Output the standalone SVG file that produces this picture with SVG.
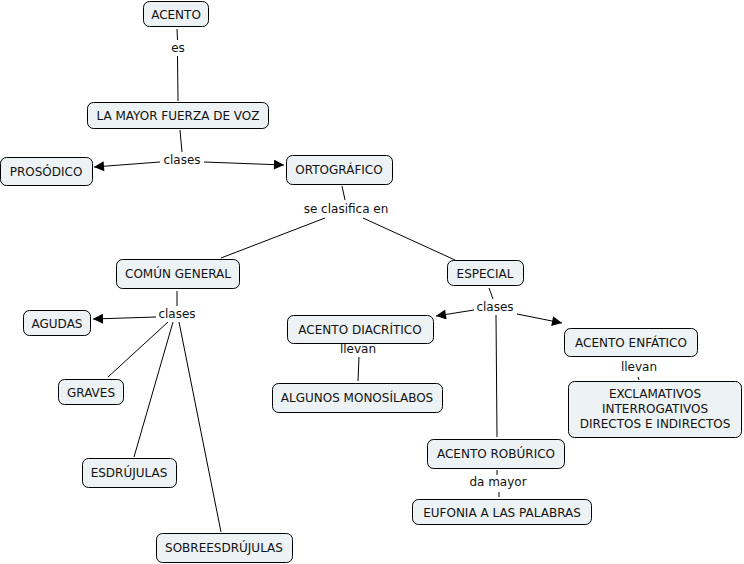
<svg xmlns="http://www.w3.org/2000/svg" width="744" height="564" viewBox="0 0 744 564">
<style>
.n rect{fill:#edf2f4;stroke:#000;stroke-width:1}
text{font-family:"DejaVu Sans",Verdana,sans-serif;font-size:12px;fill:#111;text-anchor:middle}
.c line{stroke:#000;stroke-width:1}
.a{marker-end:url(#ah)}
</style>
<defs>
<marker id="ah" viewBox="0 0 10 10" refX="10" refY="5" markerWidth="12" markerHeight="10" markerUnits="userSpaceOnUse" orient="auto">
<path d="M0,0 L10,5 L0,10 Z" fill="#000"/>
</marker>
</defs>
<rect width="744" height="564" fill="#fff"/>
<g class="c">
<line x1="177" y1="29" x2="177.5" y2="40"/>
<line x1="177.5" y1="56" x2="178" y2="101"/>
<line x1="180" y1="130" x2="182" y2="152"/>
<line x1="160" y1="162" x2="94" y2="167" class="a"/>
<line x1="204" y1="162" x2="284" y2="165" class="a"/>
<line x1="342" y1="186" x2="345" y2="200"/>
<line x1="325" y1="218" x2="221" y2="258"/>
<line x1="363" y1="218" x2="455" y2="260"/>
<line x1="177" y1="291" x2="177" y2="306"/>
<line x1="156" y1="317" x2="93" y2="319" class="a"/>
<line x1="168" y1="322" x2="108" y2="377"/>
<line x1="173" y1="322" x2="134" y2="457"/>
<line x1="179" y1="322" x2="221" y2="532"/>
<line x1="489" y1="288" x2="493" y2="299"/>
<line x1="474" y1="310" x2="436" y2="316" class="a"/>
<line x1="517" y1="314" x2="562" y2="323" class="a"/>
<line x1="496" y1="315" x2="497" y2="437"/>
<line x1="359" y1="357" x2="358" y2="381"/>
<line x1="638" y1="377" x2="639" y2="380"/>
<line x1="497" y1="470" x2="497" y2="475"/>
<line x1="499" y1="492" x2="499" y2="497"/>
</g>
<g id="lbl-es"><text x="178" y="52">es</text></g>
<g id="lbl-clases1"><text x="182" y="164">clases</text></g>
<g id="lbl-seclasifica"><text x="346" y="213">se clasifica en</text></g>
<g id="lbl-clases2"><text x="177" y="318">clases</text></g>
<g id="lbl-clases3"><text x="495" y="311">clases</text></g>
<g id="lbl-llevan1"><text x="358" y="353">llevan</text></g>
<g id="lbl-llevan2"><text x="639" y="371">llevan</text></g>
<g id="lbl-damayor"><text x="498" y="486">da mayor</text></g>
<g id="n-acento" class="n"><rect x="143.5" y="1.5" width="65" height="25" rx="6"/><text x="176" y="18.5">ACENTO</text></g>
<g id="n-lamayor" class="n"><rect x="87.5" y="102.5" width="181" height="26" rx="6"/><text x="178" y="120">LA MAYOR FUERZA DE VOZ</text></g>
<g id="n-prosodico" class="n"><rect x="0.5" y="157.5" width="92" height="28" rx="6"/><text x="46" y="176">PROSÓDICO</text></g>
<g id="n-ortografico" class="n"><rect x="286.5" y="155.5" width="106" height="29" rx="6"/><text x="339" y="174">ORTOGRÁFICO</text></g>
<g id="n-comun" class="n"><rect x="116.5" y="259.5" width="123" height="29" rx="6"/><text x="178" y="278">COMÚN GENERAL</text></g>
<g id="n-especial" class="n"><rect x="447.5" y="260.5" width="76" height="25" rx="6"/><text x="485" y="277.5">ESPECIAL</text></g>
<g id="n-agudas" class="n"><rect x="23.5" y="310.5" width="67" height="25" rx="6"/><text x="57" y="327.5">AGUDAS</text></g>
<g id="n-graves" class="n"><rect x="58.5" y="379.5" width="65" height="25" rx="6"/><text x="91" y="396.5">GRAVES</text></g>
<g id="n-esdrujulas" class="n"><rect x="82.5" y="458.5" width="94" height="29" rx="6"/><text x="129" y="477">ESDRÚJULAS</text></g>
<g id="n-sobre" class="n"><rect x="156.5" y="533.5" width="136" height="29" rx="6"/><text x="224" y="552">SOBREESDRÚJULAS</text></g>
<g id="n-diacritico" class="n"><rect x="287.5" y="315.5" width="146" height="28" rx="6"/><text x="360" y="334">ACENTO DIACRÍTICO</text></g>
<g id="n-monosilabos" class="n"><rect x="272.5" y="383.5" width="170" height="29" rx="6"/><text x="357" y="402">ALGUNOS MONOSÍLABOS</text></g>
<g id="n-enfatico" class="n"><rect x="564.5" y="328.5" width="133" height="28" rx="6"/><text x="631" y="347">ACENTO ENFÁTICO</text></g>
<g id="n-exclamativos" class="n"><rect x="568.5" y="381.5" width="173" height="56" rx="6"/><text x="655" y="398">EXCLAMATIVOS</text><text x="655" y="413">INTERROGATIVOS</text><text x="655" y="428">DIRECTOS E INDIRECTOS</text></g>
<g id="n-roburico" class="n"><rect x="427.5" y="439.5" width="137" height="29" rx="6"/><text x="496" y="458">ACENTO ROBÚRICO</text></g>
<g id="n-eufonia" class="n"><rect x="412.5" y="499.5" width="179" height="25" rx="6"/><text x="502" y="516.5">EUFONIA A LAS PALABRAS</text></g>
</svg>
